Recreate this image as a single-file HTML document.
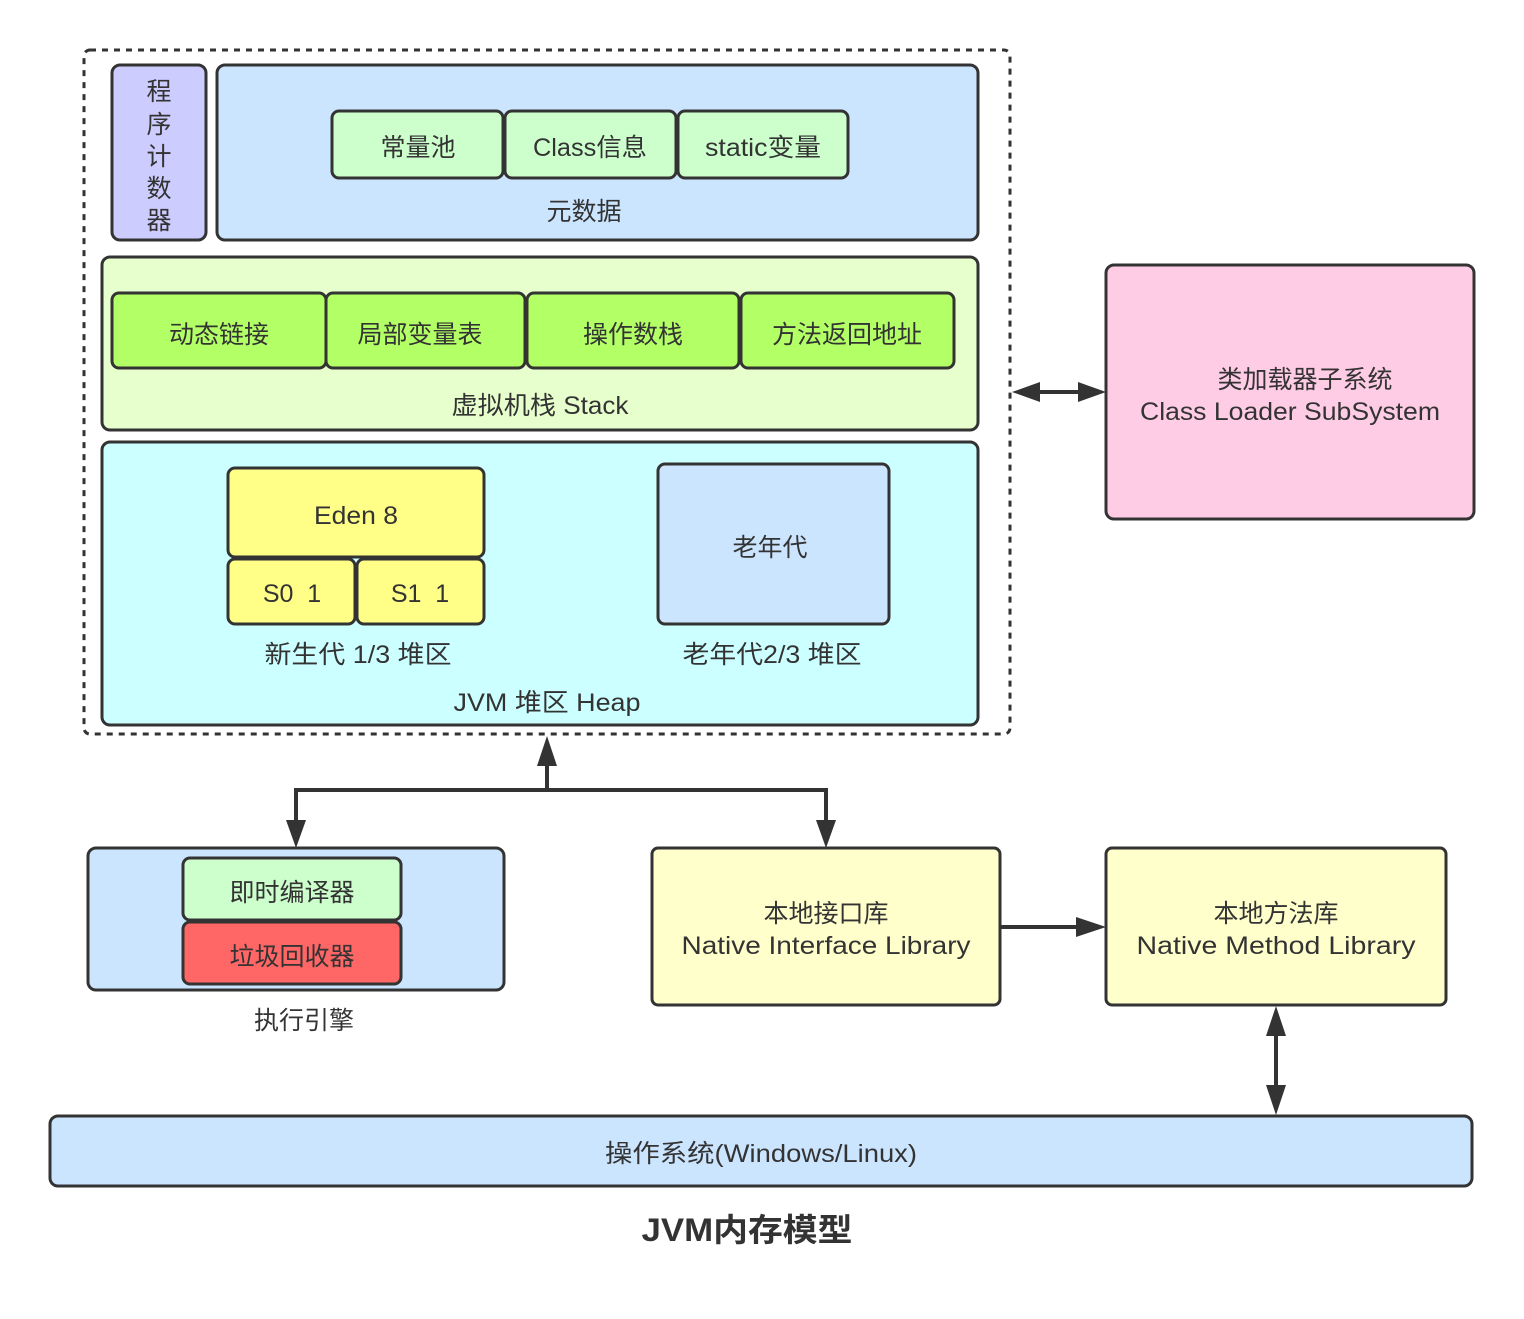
<!DOCTYPE html>
<html><head><meta charset="utf-8"><style>
html,body{margin:0;padding:0;background:#fff;}
svg text{font-family:"Liberation Sans","Noto Sans CJK SC",sans-serif;fill:#333;}
</style></head><body>
<svg width="1524" height="1314" viewBox="0 0 1524 1314" xmlns="http://www.w3.org/2000/svg">
<g stroke="#333" stroke-width="3">
<rect x="84" y="50" width="926" height="684" rx="6" fill="none" stroke-dasharray="6 6"/>
<rect x="112" y="65" width="94" height="175" rx="8" fill="#ccccff"/>
<rect x="217" y="65" width="761" height="175" rx="8" fill="#cce5ff"/>
<rect x="332" y="111" width="171" height="67" rx="7" fill="#ccffcc"/>
<rect x="505" y="111" width="171" height="67" rx="7" fill="#ccffcc"/>
<rect x="678" y="111" width="170" height="67" rx="7" fill="#ccffcc"/>
<rect x="102" y="257" width="876" height="173" rx="8" fill="#e6ffcc"/>
<rect x="112" y="293" width="214" height="75" rx="7" fill="#b3ff66"/>
<rect x="326" y="293" width="199" height="75" rx="7" fill="#b3ff66"/>
<rect x="527" y="293" width="212" height="75" rx="7" fill="#b3ff66"/>
<rect x="741" y="293" width="213" height="75" rx="7" fill="#b3ff66"/>
<rect x="102" y="442" width="876" height="283" rx="8" fill="#ccffff"/>
<rect x="228" y="468" width="256" height="89" rx="7" fill="#ffff88"/>
<rect x="228" y="559" width="127" height="65" rx="7" fill="#ffff88"/>
<rect x="357" y="559" width="127" height="65" rx="7" fill="#ffff88"/>
<rect x="658" y="464" width="231" height="160" rx="7" fill="#cce5ff"/>
<rect x="1106" y="265" width="368" height="254" rx="8" fill="#ffcce6"/>
<rect x="88" y="848" width="416" height="142" rx="8" fill="#cce5ff"/>
<rect x="183" y="858" width="218" height="62" rx="7" fill="#ccffcc"/>
<rect x="183" y="922" width="218" height="62" rx="7" fill="#ff6666"/>
<rect x="652" y="848" width="348" height="157" rx="6" fill="#ffffcc"/>
<rect x="1106" y="848" width="340" height="157" rx="6" fill="#ffffcc"/>
<rect x="50" y="1116" width="1422" height="70" rx="8" fill="#cce5ff"/>
</g>
<g stroke="#333" stroke-width="4" fill="none">
<line x1="1036" y1="392" x2="1080" y2="392"/>
<path d="M1012,392 L1040,382 L1040,402 Z" fill="#333" stroke="none"/>
<path d="M1106,392 L1078,382 L1078,402 Z" fill="#333" stroke="none"/>
<path d="M547,766 L547,790 M296,820 L296,790 L826,790 L826,820"/>
<path d="M547,736 L537,766 L557,766 Z" fill="#333" stroke="none"/>
<path d="M296,848 L286,820 L306,820 Z" fill="#333" stroke="none"/>
<path d="M826,848 L816,820 L836,820 Z" fill="#333" stroke="none"/>
<line x1="1000" y1="927" x2="1078" y2="927"/>
<path d="M1106,927 L1076,917 L1076,937 Z" fill="#333" stroke="none"/>
<line x1="1276" y1="1034" x2="1276" y2="1088"/>
<path d="M1276,1006 L1266,1036 L1286,1036 Z" fill="#333" stroke="none"/>
<path d="M1276,1115 L1266,1085 L1286,1085 Z" fill="#333" stroke="none"/>
</g>
<g font-size="25" text-anchor="middle">
<text x="159" y="100">程</text><text x="159" y="133">序</text><text x="159" y="165">计</text><text x="159" y="197">数</text><text x="159" y="229">器</text>
<text x="418" y="156">常量池</text>
<text x="590" y="156" textLength="114" lengthAdjust="spacingAndGlyphs">Class信息</text>
<text x="763" y="156" textLength="116" lengthAdjust="spacingAndGlyphs">static变量</text>
<text x="584" y="220">元数据</text>
<text x="219" y="343">动态链接</text>
<text x="420" y="343">局部变量表</text>
<text x="633" y="343">操作数栈</text>
<text x="847" y="343">方法返回地址</text>
<text x="540" y="414" textLength="177" lengthAdjust="spacingAndGlyphs">虚拟机栈 Stack</text>
<text x="356" y="524" textLength="84" lengthAdjust="spacingAndGlyphs">Eden 8</text>
<text x="292" y="602">S0&#160;&#160;1</text>
<text x="420" y="602">S1&#160;&#160;1</text>
<text x="770" y="556">老年代</text>
<text x="358" y="663" textLength="187" lengthAdjust="spacingAndGlyphs">新生代 1/3 堆区</text>
<text x="772" y="663" textLength="179" lengthAdjust="spacingAndGlyphs">老年代2/3 堆区</text>
<text x="547" y="711" textLength="187" lengthAdjust="spacingAndGlyphs">JVM 堆区 Heap</text>
<text x="1305" y="388">类加载器子系统</text>
<text x="1290" y="420" textLength="300" lengthAdjust="spacingAndGlyphs">Class Loader SubSystem</text>
<text x="292" y="901">即时编译器</text>
<text x="292" y="965">垃圾回收器</text>
<text x="304" y="1029">执行引擎</text>
<text x="826" y="922">本地接口库</text>
<text x="826" y="954" textLength="289" lengthAdjust="spacingAndGlyphs">Native Interface Library</text>
<text x="1276" y="922">本地方法库</text>
<text x="1276" y="954" textLength="279" lengthAdjust="spacingAndGlyphs">Native Method Library</text>
<text x="761" y="1162" textLength="312" lengthAdjust="spacingAndGlyphs">操作系统(Windows/Linux)</text>
<text x="747" y="1241" font-size="32" font-weight="bold" textLength="211" lengthAdjust="spacingAndGlyphs">JVM内存模型</text>
</g>
</svg>
</body></html>
